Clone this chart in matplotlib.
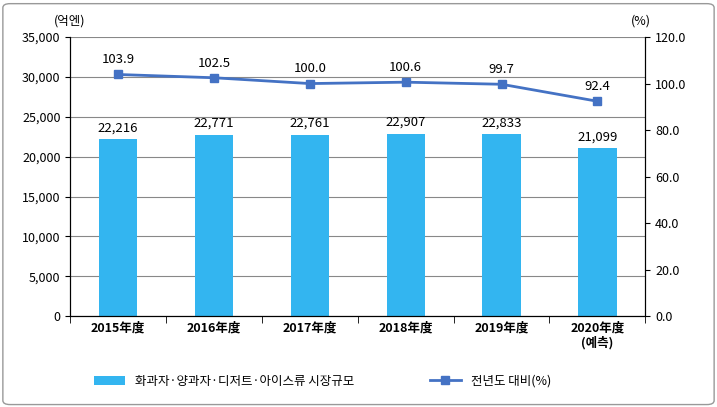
import matplotlib.pyplot as plt
from matplotlib.patches import FancyBboxPatch
from matplotlib import font_manager

names = {f.name for f in font_manager.fontManager.ttflist}
cjk = [n for n in ["Noto Sans CJK KR", "Noto Sans CJK JP", "Noto Sans CJK SC", "Noto Sans CJK TC"] if n in names]
plt.rcParams["font.family"] = cjk + ["DejaVu Sans"]

categories = ["2015年度", "2016年度", "2017年度", "2018年度", "2019年度", "2020年度\n(예측)"]
market_size = [22216, 22771, 22761, 22907, 22833, 21099]
yoy_ratio = [103.9, 102.5, 100.0, 100.6, 99.7, 92.4]

fig = plt.figure(figsize=(7.17, 4.07), dpi=100)
fig.patches.append(FancyBboxPatch((0.004, 0.006), 0.992, 0.985, boxstyle="round,pad=0,rounding_size=0.01",
                                  transform=fig.transFigure, fill=False, edgecolor="#999999", lw=1))
ax = fig.add_axes([0.098, 0.223, 0.802, 0.686])
x = range(len(categories))
ax.bar(x, market_size, width=0.4, color="#33B5F0", zorder=2, label="화과자·양과자·디저트·아이스류 시장규모")
ax.set_ylim(0, 35000)
ax.set_yticks(range(0, 35001, 5000))
ax.set_yticklabels([f"{v:,}" for v in range(0, 35001, 5000)], fontsize=9)
ax.set_xlim(-0.5, len(categories) - 0.5)
ax.set_xticks(list(x))
ax.set_xticklabels(categories, fontsize=9, fontweight="bold")
ax.set_xticks([i + 0.5 for i in range(-1, len(categories))], minor=True)
ax.tick_params(axis="x", which="major", length=0)
ax.tick_params(axis="x", which="minor", length=5)
ax.grid(axis="y", color="#888888", lw=0.8, zorder=0)
ax.spines["top"].set_visible(False)
for i, v in enumerate(market_size):
    ax.text(i, v + 600, f"{v:,}", ha="center", va="bottom", fontsize=9.5)

ax2 = ax.twinx()
ax2.plot(x, yoy_ratio, color="#4472C4", lw=2, marker="s", markersize=6, zorder=3, label="전년도 대비(%)")
ax2.set_ylim(0, 120)
ax2.set_yticks(range(0, 121, 20))
ax2.set_yticklabels([f"{v:.1f}" for v in range(0, 121, 20)], fontsize=9)
ax2.spines["top"].set_visible(False)
for i, v in enumerate(yoy_ratio):
    ax2.text(i, v + 3.5, f"{v:.1f}", ha="center", va="bottom", fontsize=9.5)

fig.text(0.075, 0.94, "(억엔)", fontsize=9)
fig.text(0.88, 0.94, "(%)", fontsize=9)

h1, l1 = ax.get_legend_handles_labels()
h2, l2 = ax2.get_legend_handles_labels()
fig.legend(h1 + h2, l1 + l2, loc="lower center", bbox_to_anchor=(0.45, 0.02), ncol=2,
           frameon=False, fontsize=9, columnspacing=6, handlelength=2.5)

fig.savefig("out.png", dpi=100)
